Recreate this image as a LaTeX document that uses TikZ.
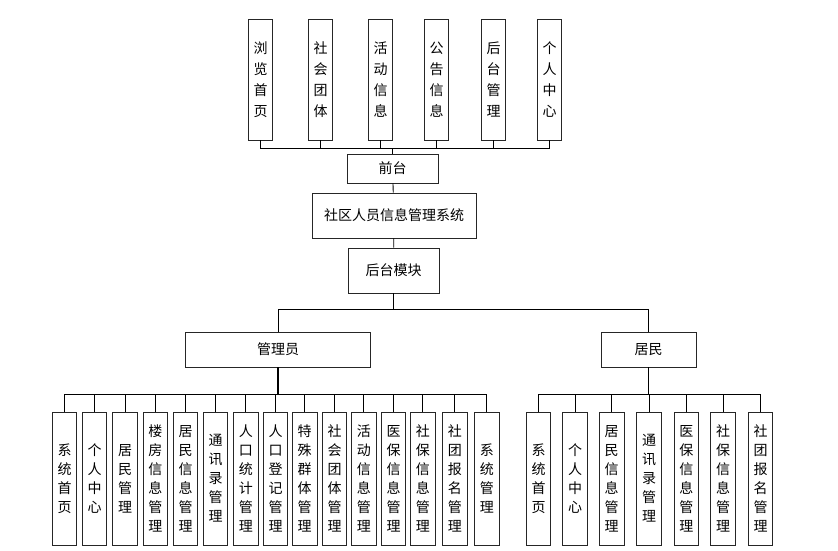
\documentclass[tikz,border=0pt]{standalone}
\usepackage{fontspec}
\setmainfont{Noto Sans CJK SC}
\usepackage{tikz}
\usetikzlibrary{positioning, calc}

\begin{document}
\begin{tikzpicture}[
	  x=1pt, y=-1pt,
	  font=\fontsize{14}{19}\selectfont,
	  box/.style={
	    draw=black!85,
	    line width=0.9pt,
	    align=center,
	    inner sep=0pt
	  },
	  wide/.style={box, minimum height=45pt},
	  tall/.style={box, minimum width=24.5pt, minimum height=121pt, font=\fontsize{14}{21}\selectfont},
	  leaf/.style={box, minimum width=24.5pt, minimum height=133pt},
	  link/.style={line width=0.9pt},
	  trunk/.style={line width=1.8pt}
	]
	\useasboundingbox (0,0) rectangle (838,551);
	
	% front-end pages
	\node[tall] (browse) at (260.5,79.5) {浏\\览\\首\\页};
	\node[tall] (group) at (320.5,79.5) {社\\会\\团\\体};
	\node[tall] (event) at (380.5,79.5) {活\\动\\信\\息};
	\node[tall] (notice) at (436.5,79.5) {公\\告\\信\\息};
	\node[tall] (backend) at (493.5,79.5) {后\\台\\管\\理};
	\node[tall] (mine) at (549.5,79.5) {个\\人\\中\\心};
	
	\node[box, minimum width=91pt, minimum height=29pt] (front) at (392.5,168.5) {前台};
	\node[wide, minimum width=164pt] (sys) at (394,215.5) {社区人员信息管理系统};
	\node[wide, minimum width=91pt] (back) at (393.5,270.5) {后台模块};
	\node[box, minimum width=185pt, minimum height=35pt] (admin) at (278,349.5) {管理员};
	\node[box, minimum width=95.5pt, minimum height=35pt] (resident) at (648.7,349.5) {居民};
	
	% admin modules
	\node[leaf] (a1) at (64.5,478.5) {系\\统\\首\\页};
	\node[leaf] (a2) at (94.5,478.5) {个\\人\\中\\心};
	\node[leaf] (a3) at (125,478.5) {居\\民\\管\\理};
	\node[leaf] (a4) at (155.3,478.5) {楼\\房\\信\\息\\管\\理};
	\node[leaf] (a5) at (185.5,478.5) {居\\民\\信\\息\\管\\理};
	\node[leaf] (a6) at (215.5,478.5) {通\\讯\\录\\管\\理};
	\node[leaf] (a7) at (245.8,478.5) {人\\口\\统\\计\\管\\理};
	\node[leaf] (a8) at (275.5,478.5) {人\\口\\登\\记\\管\\理};
	\node[leaf] (a9) at (304.7,478.5) {特\\殊\\群\\体\\管\\理};
	\node[leaf] (a10) at (334.5,478.5) {社\\会\\团\\体\\管\\理};
	\node[leaf] (a11) at (363.8,478.5) {活\\动\\信\\息\\管\\理};
	\node[leaf] (a12) at (393.5,478.5) {医\\保\\信\\息\\管\\理};
	\node[leaf] (a13) at (422.8,478.5) {社\\保\\信\\息\\管\\理};
	\node[leaf] (a14) at (454.8,478.5) {社\\团\\报\\名\\管\\理};
	\node[leaf] (a15) at (486.8,478.5) {系\\统\\管\\理};
	
	% resident modules
	\node[leaf] (r1) at (538.5,478.5) {系\\统\\首\\页};
	\node[leaf] (r2) at (575,478.5) {个\\人\\中\\心};
	\node[leaf] (r3) at (611.7,478.5) {居\\民\\信\\息\\管\\理};
	\node[leaf] (r4) at (649,478.5) {通\\讯\\录\\管\\理};
	\node[leaf] (r5) at (686.3,478.5) {医\\保\\信\\息\\管\\理};
	\node[leaf] (r6) at (723,478.5) {社\\保\\信\\息\\管\\理};
	\node[leaf] (r7) at (760.5,478.5) {社\\团\\报\\名\\管\\理};
	
	\coordinate (fbus) at (392.5,148.3);
	\coordinate (bbus) at (393.5,309);
	\coordinate (abus) at (278,394.3);
	\coordinate (rbus) at (648.7,394.3);
	
	\foreach \n in {browse, group, event, notice, backend, mine}
	  \draw[link] (\n.south) |- (fbus);
	\draw[link] (fbus) -- (front.north);
	\draw[link] (front) -- (sys);
	\draw[link] (sys) -- (back);
	\draw[link] (back.south) -- (bbus);
	\draw[link] (bbus) -| (admin.north);
	\draw[link] (bbus) -| (resident.north);
	
	\draw[trunk] (admin.south) -- (abus);
	\foreach \i in {1,...,15}
	  \draw[link] (a\i.north) |- (abus);
	\draw[link] (resident.south) -- (rbus);
	\foreach \i in {1,...,7}
	  \draw[link] (r\i.north) |- (rbus);
	
	\end{tikzpicture}
\end{document}
